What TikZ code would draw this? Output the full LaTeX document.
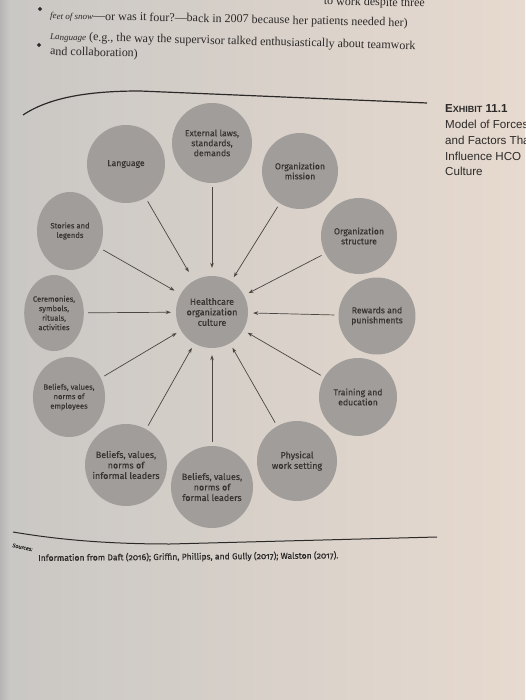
\documentclass[tikz,border=0pt]{standalone}
\usepackage{fontspec}
\setmainfont{Liberation Serif}
\newfontfamily\firaf[FakeBold=0.3]{Fira Sans}
\newfontfamily\firaold[Numbers=OldStyle,FakeBold=0.5]{Fira Sans}
\newfontfamily\arialf{Liberation Sans}
\usetikzlibrary{arrows.meta,shapes.geometric}
\definecolor{circfill}{HTML}{A19D9A}
\definecolor{circtext}{HTML}{373533}
\definecolor{linec}{HTML}{4A4644}
\definecolor{inkc}{HTML}{2C2A29}
\definecolor{bgL}{HTML}{C9C7C4}
\definecolor{bgM}{HTML}{D6D2CE}
\definecolor{bgR}{HTML}{E7DACF}
\begin{document}
\begin{tikzpicture}[x=1pt,y=-1pt,
  force/.style={circle,fill=circfill,draw=none,minimum size=#1,inner sep=0pt,align=center,text=circtext,font=\firaf\fontsize{8.7}{10}\selectfont},
  force/.default=78,
  oval/.style={ellipse,fill=circfill,draw=none,inner sep=0pt,align=center,text=circtext,font=\firaf\fontsize{7.6}{9.5}\selectfont},
  hub/.style={circle,fill=circfill,draw=none,minimum size=72,inner sep=0pt,align=center,text=circtext,font=\firaf\fontsize{9}{10.5}\selectfont},
  arr/.style={draw=linec,line width=0.7pt,-{Stealth[length=5pt,width=3.6pt]},shorten <=4pt,shorten >=5pt},
  body/.style={text=inkc,inner sep=0pt,font=\fontsize{12}{14}\selectfont},
  exh/.style={anchor=base west,text=inkc,inner sep=0pt,font=\arialf\fontsize{11.6}{13}\selectfont},
  bul/.style={diamond,fill=inkc,inner sep=1.1pt}
]
\useasboundingbox (0,0) rectangle (525,700);
\shade[left color=bgL,middle color=bgM,right color=bgR] (0,0) rectangle (525,700);
\shade[left color=black!35,right color=bgL,opacity=0.5] (0,0) rectangle (9,700);

% text at top
\node[body,anchor=east,rotate=-1.2] (l0) at (425,4) {to work despite three};
\node[bul] (b1) at (40,9) {};
\node[body,anchor=west,rotate=-1.2] (l1) at (50,16) {\textit{\small feet of snow}---or was it four?---back in 2007 because her patients needed her)};
\node[bul] (b2) at (39,45) {};
\node[body,anchor=west,rotate=-1.5] (l2) at (50,37) {\textit{\small Language} (e.g., the way the supervisor talked enthusiastically about teamwork};
\node[body,anchor=west,rotate=-1.5] (l3) at (50,52) {and collaboration)};

% rules
\draw[inkc,line width=1.2pt] (23,115) .. controls (50,97) and (90,91) .. (140,91) -- (427,103);
\draw[inkc,line width=1pt] (13,532) .. controls (60,540) and (110,544) .. (170,544) -- (437,537);

% exhibit caption
\node[exh] (e1) at (445,113) {\textbf{E{\fontsize{9}{13}\selectfont XHIBIT} 11.1}};
\node[exh] (e2) at (445,129) {Model of Forces};
\node[exh] (e3) at (445,145) {and Factors That};
\node[exh] (e4) at (445,160.5) {Influence HCO};
\node[exh] (e5) at (445,176) {Culture};

% circles
\node[force=80] (ext) at (212,143) {External laws,\\standards,\\demands};
\node[force=78] (lang) at (126,164) {Language};
\node[force=76] (miss) at (300,171) {Organization\\mission};
\node[oval,minimum width=66,minimum height=78] (story) at (70,231) {Stories and\\legends};
\node[force=76] (struct) at (359,236) {Organization\\structure};
\node[oval,minimum width=58,minimum height=76] (cere) at (54,313) {Ceremonies,\\symbols,\\rituals,\\activities};
\node[hub] (hc) at (212,312) {Healthcare\\organization\\culture};
\node[force=77] (rew) at (377,316) {Rewards and\\punishments};
\node[oval,minimum width=68,minimum height=80] (emp) at (69,397) {Beliefs, values,\\norms of\\employees};
\node[force=78] (train) at (358,397) {Training and\\education};
\node[force=82,font=\firaf\fontsize{9}{10.5}\selectfont] (inf) at (126,465) {Beliefs, values,\\norms of\\informal leaders};
\node[force=82,font=\firaf\fontsize{9}{10.5}\selectfont] (form) at (212,487) {Beliefs, values,\\norms of\\formal leaders};
\node[force=80,font=\firaf\fontsize{9}{10.5}\selectfont] (phys) at (297,461) {Physical\\work setting};

% arrows
\draw[arr,shorten >=8pt] (ext) -- (hc);
\draw[arr,shorten >=10pt] (lang) -- (hc);
\draw[arr] (miss) -- (hc);
\draw[arr,shorten >=7pt] (story) -- (hc);
\draw[arr] (struct) -- (hc);
\draw[arr] (cere) -- (hc);
\draw[arr] (rew) -- (hc);
\draw[arr] (emp) -- (hc);
\draw[arr] (train) -- (hc);
\draw[arr] (inf) -- (hc);
\draw[arr,shorten >=7pt] (form) -- (hc);
\draw[arr] (phys) -- (hc);

% sources
\node[text=inkc,inner sep=0pt,anchor=base west,rotate=-12,font=\firaf\fontsize{5.5}{6}\selectfont] (srcl) at (12,547) {\textit{Sources:}};
\node[text=inkc,inner sep=0pt,anchor=base west,rotate=0.5,font=\firaold\fontsize{8.6}{10}\selectfont] (src) at (38,561) {Information from Daft (2016); Griffin, Phillips, and Gully (2017); Walston (2017).};
\end{tikzpicture}
\end{document}
